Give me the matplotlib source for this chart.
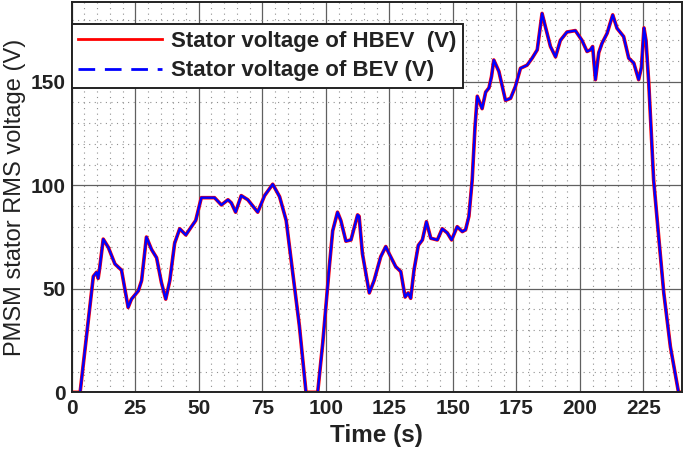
import matplotlib
matplotlib.use('Agg')
import matplotlib.pyplot as plt
from matplotlib.lines import Line2D
from matplotlib.ticker import MultipleLocator

# data
time_s = [0, 3.3, 8.5, 9.8, 10.4, 11, 12.4, 14.4, 17, 19.6, 22.2, 23.5, 26.2, 27.5, 29.4,
          31.4, 33.4, 35.3, 37, 38.6, 40.5, 42.5, 44.9, 47.1, 48.8, 51, 53, 56.2, 58.9,
          61.5, 62.8, 64.5, 66.7, 69.3, 73.2, 75.9, 79.1, 81.8, 84.4, 87, 89.6, 92.2,
          96.8, 98.8, 101.4, 102.7, 104.6, 105.9, 107.9, 109.9, 112.5, 113.1, 114.4,
          117.1, 119, 121.6, 123.6, 124.9, 127.5, 129.5, 131.2, 132.4, 133.4, 134.7,
          136.4, 138, 139.6, 141.3, 143.9, 145.8, 147.8, 149.5, 151.7, 153.7, 155,
          156.3, 157.6, 158.7, 159.6, 161.5, 162.9, 164.2, 165.2, 166.1, 168.1, 170.7,
          172.7, 174.6, 176.6, 179.2, 181.2, 183.2, 185.1, 186.4, 188.4, 190.4, 192.3,
          194.9, 198.2, 200.8, 202.8, 204.1, 205, 206.1, 207.4, 208.7, 210.7, 212.9,
          214.6, 217.2, 219.2, 221.2, 223.1, 224.2, 225.2, 226, 227.1, 229, 231, 233,
          235.6, 238.8, 240]
v_hbev = [0, 0, 56, 58, 55, 60, 74, 70, 62, 59, 41, 45, 49, 54, 75,
          69, 65, 53, 45, 54, 72, 79, 76, 80, 83, 94, 94, 94, 90.5,
          93, 91.5, 87, 95, 93, 87, 95, 100.5, 94.5, 83, 57.5, 32, 0,
          0, 24, 61, 78, 87, 83, 73, 73.6, 85.7, 85, 67,
          48, 54, 65.5, 70.4, 67, 60.7, 58.3, 46, 48, 45.4, 59,
          71, 73.6, 82.4, 74.4, 73.6, 79, 77, 73.6, 80, 77.6, 78.5,
          85, 102.6, 128, 143, 137, 145, 147, 152.5, 160.5, 155, 141,
          142, 147.7, 156.5, 158, 161.4, 165.4, 183, 176.6, 167, 162, 170,
          174, 174.7, 170, 164.6, 165.4, 167, 151, 164, 168.6, 173.4, 182.3,
          175.8, 171.8, 161.4, 159, 151, 157, 176, 170, 149, 102.6, 75, 48,
          22, 0, 0]
v_bev = list(v_hbev)

x_ticks = [0, 25, 50, 75, 100, 125, 150, 175, 200, 225]
y_ticks = [0, 50, 100, 150]

plt.rcParams['font.family'] = ['Liberation Sans', 'DejaVu Sans']

fig = plt.figure(figsize=(6.85, 4.58), dpi=100)
ax = fig.add_axes([0.1047, 0.1434, 0.8903, 0.8522])

ax.plot(time_s, v_hbev, color='red', lw=2.6)
ax.plot(time_s, v_bev, color='blue', lw=1.7)

ax.set_xlim(0, 240)
ax.set_ylim(0, 188.5)
ax.set_xticks(x_ticks)
ax.set_yticks(y_ticks)
ax.xaxis.set_minor_locator(MultipleLocator(5))
ax.yaxis.set_minor_locator(MultipleLocator(10))
ax.grid(True, which='major', color='#606060', lw=0.9)
ax.grid(True, which='minor', color='#909090', lw=0.8, linestyle=(0, (1, 4)))
ax.set_axisbelow(True)
ax.tick_params(which='both', length=0)
ax.tick_params(axis='x', pad=5)
ax.tick_params(axis='y', pad=4.5)
for lab in ax.get_xticklabels() + ax.get_yticklabels():
    lab.set_fontsize(15)
    lab.set_fontweight('bold')
    lab.set_color('#222222')
for s in ax.spines.values():
    s.set_linewidth(1.4)
    s.set_color('#222222')

ax.set_xlabel('Time (s)', fontsize=17.5, fontweight='bold', color='#222222', labelpad=4)
ax.set_ylabel('PMSM stator RMS voltage (V)', fontsize=17, color='#222222', labelpad=3)

handles = [Line2D([], [], color='red', lw=2),
           Line2D([], [], color='blue', lw=2, linestyle=(0, (6, 3.5)))]
leg = ax.legend(handles, ['Stator voltage of HBEV  (V)', 'Stator voltage of BEV (V)'],
                loc='upper left', bbox_to_anchor=(0.0, 0.943), fancybox=False,
                framealpha=1, edgecolor='#222222', handlelength=3.75, handletextpad=0.4,
                labelspacing=0.38, borderpad=0.3, borderaxespad=0.0,
                prop={'weight': 'bold', 'size': 16})
leg.get_frame().set_linewidth(1.4)
for t in leg.get_texts():
    t.set_color('#222222')

fig.savefig('out.png', dpi=100)
